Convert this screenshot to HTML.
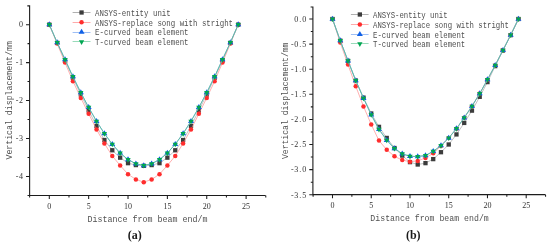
<!DOCTYPE html><html><head><meta charset="utf-8"><title>Vertical displacement</title><style>html,body{margin:0;padding:0;background:#fff}svg{display:block}</style></head><body>
<svg width="550" height="245" viewBox="0 0 550 245">
<rect width="550" height="245" fill="#fff"/>
<path d="M27.32,5.85 H29.62 V195.50 H265.60" fill="none" stroke="#1c1c1c" stroke-width="1.1" stroke-linejoin="miter"/>
<path d="M49.30,195.50v3.6M88.66,195.50v3.6M128.02,195.50v3.6M167.38,195.50v3.6M206.74,195.50v3.6M246.10,195.50v3.6M29.62,195.50v2.1M68.98,195.50v2.1M108.34,195.50v2.1M147.70,195.50v2.1M187.06,195.50v2.1M226.42,195.50v2.1M265.78,195.50v2.1M29.62,24.65h-3.6M29.62,62.60h-3.6M29.62,100.55h-3.6M29.62,138.50h-3.6M29.62,176.45h-3.6M29.62,43.62h-2.1M29.62,81.58h-2.1M29.62,119.53h-2.1M29.62,157.48h-2.1M29.62,195.43h-2.1" fill="none" stroke="#1c1c1c" stroke-width="1.05"/>
<text x="47.30" y="208.70" font-size="8.0" fill="#333" font-family='"Liberation Serif", serif'>0</text>
<text x="86.66" y="208.70" font-size="8.0" fill="#333" font-family='"Liberation Serif", serif'>5</text>
<text x="124.02 128.02" y="208.70" font-size="8.0" fill="#333" font-family='"Liberation Serif", serif'>10</text>
<text x="163.38 167.38" y="208.70" font-size="8.0" fill="#333" font-family='"Liberation Serif", serif'>15</text>
<text x="202.74 206.74" y="208.70" font-size="8.0" fill="#333" font-family='"Liberation Serif", serif'>20</text>
<text x="242.10 246.10" y="208.70" font-size="8.0" fill="#333" font-family='"Liberation Serif", serif'>25</text>
<text x="19.02" y="27.45" font-size="8.0" fill="#333" font-family='"Liberation Serif", serif'>0</text>
<text x="15.69 19.02" y="65.40" font-size="8.0" fill="#333" font-family='"Liberation Serif", serif'>-1</text>
<text x="15.69 19.02" y="103.35" font-size="8.0" fill="#333" font-family='"Liberation Serif", serif'>-2</text>
<text x="15.69 19.02" y="141.30" font-size="8.0" fill="#333" font-family='"Liberation Serif", serif'>-3</text>
<text x="15.69 19.02" y="179.25" font-size="8.0" fill="#333" font-family='"Liberation Serif", serif'>-4</text>
<text transform="translate(147.50 221.60) scale(1 1.15)" font-size="8.33" text-anchor="middle" fill="#505050" font-family='"Liberation Mono", monospace'>Distance from beam end/m</text>
<text transform="translate(11.90 100.35) rotate(-90) scale(1 1.15)" font-size="8.23" text-anchor="middle" fill="#505050" font-family='"Liberation Mono", monospace'>Vertical displacement/mm</text>
<text x="134.70" y="239.20" font-size="12" text-anchor="middle" fill="#1a1a1a" font-weight="bold" font-family='"Liberation Serif", serif'>(a)</text>
<polyline points="49.30,24.65 57.17,42.87 65.04,60.32 72.92,77.78 80.79,94.48 88.66,110.42 96.53,125.98 104.40,140.02 112.28,150.26 120.15,157.66 128.02,163.17 135.89,165.07 143.76,165.82 151.64,165.07 159.51,163.17 167.38,157.66 175.25,150.26 183.12,140.02 191.00,125.98 198.87,110.42 206.74,94.48 214.61,77.78 222.48,60.32 230.36,42.87 238.23,24.65" fill="none" stroke="#3c3c3c" stroke-width="0.32"/>
<rect x="47.15" y="22.50" width="4.30" height="4.30" fill="#3c3c3c"/>
<rect x="55.02" y="40.72" width="4.30" height="4.30" fill="#3c3c3c"/>
<rect x="62.89" y="58.17" width="4.30" height="4.30" fill="#3c3c3c"/>
<rect x="70.77" y="75.63" width="4.30" height="4.30" fill="#3c3c3c"/>
<rect x="78.64" y="92.33" width="4.30" height="4.30" fill="#3c3c3c"/>
<rect x="86.51" y="108.27" width="4.30" height="4.30" fill="#3c3c3c"/>
<rect x="94.38" y="123.83" width="4.30" height="4.30" fill="#3c3c3c"/>
<rect x="102.25" y="137.87" width="4.30" height="4.30" fill="#3c3c3c"/>
<rect x="110.13" y="148.11" width="4.30" height="4.30" fill="#3c3c3c"/>
<rect x="118.00" y="155.51" width="4.30" height="4.30" fill="#3c3c3c"/>
<rect x="125.87" y="161.02" width="4.30" height="4.30" fill="#3c3c3c"/>
<rect x="133.74" y="162.92" width="4.30" height="4.30" fill="#3c3c3c"/>
<rect x="141.61" y="163.67" width="4.30" height="4.30" fill="#3c3c3c"/>
<rect x="149.49" y="162.92" width="4.30" height="4.30" fill="#3c3c3c"/>
<rect x="157.36" y="161.02" width="4.30" height="4.30" fill="#3c3c3c"/>
<rect x="165.23" y="155.51" width="4.30" height="4.30" fill="#3c3c3c"/>
<rect x="173.10" y="148.11" width="4.30" height="4.30" fill="#3c3c3c"/>
<rect x="180.97" y="137.87" width="4.30" height="4.30" fill="#3c3c3c"/>
<rect x="188.85" y="123.83" width="4.30" height="4.30" fill="#3c3c3c"/>
<rect x="196.72" y="108.27" width="4.30" height="4.30" fill="#3c3c3c"/>
<rect x="204.59" y="92.33" width="4.30" height="4.30" fill="#3c3c3c"/>
<rect x="212.46" y="75.63" width="4.30" height="4.30" fill="#3c3c3c"/>
<rect x="220.33" y="58.17" width="4.30" height="4.30" fill="#3c3c3c"/>
<rect x="228.21" y="40.72" width="4.30" height="4.30" fill="#3c3c3c"/>
<rect x="236.08" y="22.50" width="4.30" height="4.30" fill="#3c3c3c"/>
<polyline points="49.30,24.65 57.17,43.62 65.04,62.60 72.92,81.20 80.79,97.89 88.66,113.83 96.53,129.39 104.40,143.43 112.28,155.96 120.15,165.44 128.02,174.17 135.89,179.49 143.76,182.14 151.64,179.49 159.51,174.17 167.38,165.44 175.25,155.96 183.12,143.43 191.00,129.39 198.87,113.83 206.74,97.89 214.61,81.20 222.48,62.60 230.36,43.62 238.23,24.65" fill="none" stroke="#fff" stroke-width="0.38"/>
<polyline points="49.30,24.65 57.17,43.62 65.04,62.60 72.92,81.20 80.79,97.89 88.66,113.83 96.53,129.39 104.40,143.43 112.28,155.96 120.15,165.44 128.02,174.17 135.89,179.49 143.76,182.14 151.64,179.49 159.51,174.17 167.38,165.44 175.25,155.96 183.12,143.43 191.00,129.39 198.87,113.83 206.74,97.89 214.61,81.20 222.48,62.60 230.36,43.62 238.23,24.65" fill="none" stroke="#ff2d2d" stroke-width="0.38"/>
<circle cx="49.30" cy="24.65" r="2.25" fill="#ff2d2d"/>
<circle cx="57.17" cy="43.62" r="2.25" fill="#ff2d2d"/>
<circle cx="65.04" cy="62.60" r="2.25" fill="#ff2d2d"/>
<circle cx="72.92" cy="81.20" r="2.25" fill="#ff2d2d"/>
<circle cx="80.79" cy="97.89" r="2.25" fill="#ff2d2d"/>
<circle cx="88.66" cy="113.83" r="2.25" fill="#ff2d2d"/>
<circle cx="96.53" cy="129.39" r="2.25" fill="#ff2d2d"/>
<circle cx="104.40" cy="143.43" r="2.25" fill="#ff2d2d"/>
<circle cx="112.28" cy="155.96" r="2.25" fill="#ff2d2d"/>
<circle cx="120.15" cy="165.44" r="2.25" fill="#ff2d2d"/>
<circle cx="128.02" cy="174.17" r="2.25" fill="#ff2d2d"/>
<circle cx="135.89" cy="179.49" r="2.25" fill="#ff2d2d"/>
<circle cx="143.76" cy="182.14" r="2.25" fill="#ff2d2d"/>
<circle cx="151.64" cy="179.49" r="2.25" fill="#ff2d2d"/>
<circle cx="159.51" cy="174.17" r="2.25" fill="#ff2d2d"/>
<circle cx="167.38" cy="165.44" r="2.25" fill="#ff2d2d"/>
<circle cx="175.25" cy="155.96" r="2.25" fill="#ff2d2d"/>
<circle cx="183.12" cy="143.43" r="2.25" fill="#ff2d2d"/>
<circle cx="191.00" cy="129.39" r="2.25" fill="#ff2d2d"/>
<circle cx="198.87" cy="113.83" r="2.25" fill="#ff2d2d"/>
<circle cx="206.74" cy="97.89" r="2.25" fill="#ff2d2d"/>
<circle cx="214.61" cy="81.20" r="2.25" fill="#ff2d2d"/>
<circle cx="222.48" cy="62.60" r="2.25" fill="#ff2d2d"/>
<circle cx="230.36" cy="43.62" r="2.25" fill="#ff2d2d"/>
<circle cx="238.23" cy="24.65" r="2.25" fill="#ff2d2d"/>
<polyline points="49.30,24.65 57.17,42.49 65.04,59.56 72.92,76.64 80.79,92.58 88.66,107.38 96.53,121.23 104.40,133.57 112.28,144.19 120.15,153.11 128.02,159.56 135.89,163.74 143.76,165.44 151.64,163.74 159.51,159.56 167.38,153.11 175.25,144.19 183.12,133.57 191.00,121.23 198.87,107.38 206.74,92.58 214.61,76.64 222.48,59.56 230.36,42.49 238.23,24.65" fill="none" stroke="#fff" stroke-width="0.58"/>
<polyline points="49.30,24.65 57.17,42.49 65.04,59.56 72.92,76.64 80.79,92.58 88.66,107.38 96.53,121.23 104.40,133.57 112.28,144.19 120.15,153.11 128.02,159.56 135.89,163.74 143.76,165.44 151.64,163.74 159.51,159.56 167.38,153.11 175.25,144.19 183.12,133.57 191.00,121.23 198.87,107.38 206.74,92.58 214.61,76.64 222.48,59.56 230.36,42.49 238.23,24.65" fill="none" stroke="#1060e6" stroke-width="0.58"/>
<polygon points="49.30,21.35 52.30,26.35 46.30,26.35" fill="#1060e6"/>
<polygon points="57.17,39.19 60.17,44.19 54.17,44.19" fill="#1060e6"/>
<polygon points="65.04,56.26 68.04,61.26 62.04,61.26" fill="#1060e6"/>
<polygon points="72.92,73.34 75.92,78.34 69.92,78.34" fill="#1060e6"/>
<polygon points="80.79,89.28 83.79,94.28 77.79,94.28" fill="#1060e6"/>
<polygon points="88.66,104.08 91.66,109.08 85.66,109.08" fill="#1060e6"/>
<polygon points="96.53,117.93 99.53,122.93 93.53,122.93" fill="#1060e6"/>
<polygon points="104.40,130.27 107.40,135.27 101.40,135.27" fill="#1060e6"/>
<polygon points="112.28,140.89 115.28,145.89 109.28,145.89" fill="#1060e6"/>
<polygon points="120.15,149.81 123.15,154.81 117.15,154.81" fill="#1060e6"/>
<polygon points="128.02,156.26 131.02,161.26 125.02,161.26" fill="#1060e6"/>
<polygon points="135.89,160.44 138.89,165.44 132.89,165.44" fill="#1060e6"/>
<polygon points="143.76,162.14 146.76,167.14 140.76,167.14" fill="#1060e6"/>
<polygon points="151.64,160.44 154.64,165.44 148.64,165.44" fill="#1060e6"/>
<polygon points="159.51,156.26 162.51,161.26 156.51,161.26" fill="#1060e6"/>
<polygon points="167.38,149.81 170.38,154.81 164.38,154.81" fill="#1060e6"/>
<polygon points="175.25,140.89 178.25,145.89 172.25,145.89" fill="#1060e6"/>
<polygon points="183.12,130.27 186.12,135.27 180.12,135.27" fill="#1060e6"/>
<polygon points="191.00,117.93 194.00,122.93 188.00,122.93" fill="#1060e6"/>
<polygon points="198.87,104.08 201.87,109.08 195.87,109.08" fill="#1060e6"/>
<polygon points="206.74,89.28 209.74,94.28 203.74,94.28" fill="#1060e6"/>
<polygon points="214.61,73.34 217.61,78.34 211.61,78.34" fill="#1060e6"/>
<polygon points="222.48,56.26 225.48,61.26 219.48,61.26" fill="#1060e6"/>
<polygon points="230.36,39.19 233.36,44.19 227.36,44.19" fill="#1060e6"/>
<polygon points="238.23,21.35 241.23,26.35 235.23,26.35" fill="#1060e6"/>
<polyline points="49.30,24.65 57.17,42.49 65.04,59.56 72.92,76.64 80.79,92.58 88.66,107.38 96.53,121.23 104.40,133.57 112.28,144.19 120.15,153.11 128.02,159.56 135.89,163.74 143.76,165.44 151.64,163.74 159.51,159.56 167.38,153.11 175.25,144.19 183.12,133.57 191.00,121.23 198.87,107.38 206.74,92.58 214.61,76.64 222.48,59.56 230.36,42.49 238.23,24.65" fill="none" stroke="#fff" stroke-width="0.5"/>
<polyline points="49.30,24.65 57.17,42.49 65.04,59.56 72.92,76.64 80.79,92.58 88.66,107.38 96.53,121.23 104.40,133.57 112.28,144.19 120.15,153.11 128.02,159.56 135.89,163.74 143.76,165.44 151.64,163.74 159.51,159.56 167.38,153.11 175.25,144.19 183.12,133.57 191.00,121.23 198.87,107.38 206.74,92.58 214.61,76.64 222.48,59.56 230.36,42.49 238.23,24.65" fill="none" stroke="#00a652" stroke-width="0.5"/>
<polygon points="49.30,27.75 51.95,23.10 46.65,23.10" fill="#00a652"/>
<polygon points="57.17,45.59 59.82,40.94 54.52,40.94" fill="#00a652"/>
<polygon points="65.04,62.66 67.69,58.01 62.39,58.01" fill="#00a652"/>
<polygon points="72.92,79.74 75.57,75.09 70.27,75.09" fill="#00a652"/>
<polygon points="80.79,95.68 83.44,91.03 78.14,91.03" fill="#00a652"/>
<polygon points="88.66,110.48 91.31,105.83 86.01,105.83" fill="#00a652"/>
<polygon points="96.53,124.33 99.18,119.68 93.88,119.68" fill="#00a652"/>
<polygon points="104.40,136.67 107.05,132.02 101.75,132.02" fill="#00a652"/>
<polygon points="112.28,147.29 114.93,142.64 109.63,142.64" fill="#00a652"/>
<polygon points="120.15,156.21 122.80,151.56 117.50,151.56" fill="#00a652"/>
<polygon points="128.02,162.66 130.67,158.01 125.37,158.01" fill="#00a652"/>
<polygon points="135.89,166.84 138.54,162.19 133.24,162.19" fill="#00a652"/>
<polygon points="143.76,168.54 146.41,163.89 141.11,163.89" fill="#00a652"/>
<polygon points="151.64,166.84 154.29,162.19 148.99,162.19" fill="#00a652"/>
<polygon points="159.51,162.66 162.16,158.01 156.86,158.01" fill="#00a652"/>
<polygon points="167.38,156.21 170.03,151.56 164.73,151.56" fill="#00a652"/>
<polygon points="175.25,147.29 177.90,142.64 172.60,142.64" fill="#00a652"/>
<polygon points="183.12,136.67 185.77,132.02 180.47,132.02" fill="#00a652"/>
<polygon points="191.00,124.33 193.65,119.68 188.35,119.68" fill="#00a652"/>
<polygon points="198.87,110.48 201.52,105.83 196.22,105.83" fill="#00a652"/>
<polygon points="206.74,95.68 209.39,91.03 204.09,91.03" fill="#00a652"/>
<polygon points="214.61,79.74 217.26,75.09 211.96,75.09" fill="#00a652"/>
<polygon points="222.48,62.66 225.13,58.01 219.83,58.01" fill="#00a652"/>
<polygon points="230.36,45.59 233.01,40.94 227.71,40.94" fill="#00a652"/>
<polygon points="238.23,27.75 240.88,23.10 235.58,23.10" fill="#00a652"/>
<path d="M72.60,12.50H90.50" stroke="#3c3c3c" stroke-opacity="0.4" stroke-width="1"/>
<rect x="79.40" y="10.35" width="4.30" height="4.30" fill="#3c3c3c"/>
<text transform="translate(95.10 15.80) scale(1 1.28)" font-size="7.42" text-anchor="start" fill="#505050" font-family='"Liberation Mono", monospace'>ANSYS-entity unit</text>
<path d="M72.60,22.50H90.50" stroke="#ff2d2d" stroke-opacity="0.4" stroke-width="1"/>
<circle cx="81.55" cy="22.25" r="2.25" fill="#ff2d2d"/>
<text transform="translate(95.10 25.55) scale(1 1.28)" font-size="7.42" text-anchor="start" fill="#505050" font-family='"Liberation Mono", monospace'>ANSYS-replace song with stright</text>
<path d="M72.60,32.50H90.50" stroke="#1060e6" stroke-opacity="0.4" stroke-width="1"/>
<polygon points="81.55,28.80 84.55,33.80 78.55,33.80" fill="#1060e6"/>
<text transform="translate(95.10 35.40) scale(1 1.28)" font-size="7.42" text-anchor="start" fill="#505050" font-family='"Liberation Mono", monospace'>E-curved beam element</text>
<path d="M72.60,41.50H90.50" stroke="#00a652" stroke-opacity="0.4" stroke-width="1"/>
<polygon points="81.55,44.95 84.20,40.30 78.90,40.30" fill="#00a652"/>
<text transform="translate(95.10 45.15) scale(1 1.28)" font-size="7.42" text-anchor="start" fill="#505050" font-family='"Liberation Mono", monospace'>T-curved beam element</text>
<path d="M310.60,6.95 H312.90 V194.65 H545.50" fill="none" stroke="#1c1c1c" stroke-width="1.1" stroke-linejoin="miter"/>
<path d="M332.50,194.65v3.6M371.24,194.65v3.6M409.98,194.65v3.6M448.72,194.65v3.6M487.46,194.65v3.6M526.20,194.65v3.6M313.13,194.65v2.1M351.87,194.65v2.1M390.61,194.65v2.1M429.35,194.65v2.1M468.09,194.65v2.1M506.83,194.65v2.1M545.57,194.65v2.1M312.90,19.00h-3.6M312.90,44.10h-3.6M312.90,69.20h-3.6M312.90,94.30h-3.6M312.90,119.40h-3.6M312.90,144.50h-3.6M312.90,169.60h-3.6M312.90,194.70h-3.6M312.90,31.55h-2.1M312.90,56.65h-2.1M312.90,81.75h-2.1M312.90,106.85h-2.1M312.90,131.95h-2.1M312.90,157.05h-2.1M312.90,182.15h-2.1" fill="none" stroke="#1c1c1c" stroke-width="1.05"/>
<text x="330.50" y="208.20" font-size="8.0" fill="#333" font-family='"Liberation Serif", serif'>0</text>
<text x="369.24" y="208.20" font-size="8.0" fill="#333" font-family='"Liberation Serif", serif'>5</text>
<text x="405.98 409.98" y="208.20" font-size="8.0" fill="#333" font-family='"Liberation Serif", serif'>10</text>
<text x="444.72 448.72" y="208.20" font-size="8.0" fill="#333" font-family='"Liberation Serif", serif'>15</text>
<text x="483.46 487.46" y="208.20" font-size="8.0" fill="#333" font-family='"Liberation Serif", serif'>20</text>
<text x="522.20 526.20" y="208.20" font-size="8.0" fill="#333" font-family='"Liberation Serif", serif'>25</text>
<text x="294.30 299.30 302.30" y="21.80" font-size="8.0" fill="#333" font-family='"Liberation Serif", serif'>0.0</text>
<text x="290.97 294.30 299.30 302.30" y="46.90" font-size="8.0" fill="#333" font-family='"Liberation Serif", serif'>-0.5</text>
<text x="290.97 294.30 299.30 302.30" y="72.00" font-size="8.0" fill="#333" font-family='"Liberation Serif", serif'>-1.0</text>
<text x="290.97 294.30 299.30 302.30" y="97.10" font-size="8.0" fill="#333" font-family='"Liberation Serif", serif'>-1.5</text>
<text x="290.97 294.30 299.30 302.30" y="122.20" font-size="8.0" fill="#333" font-family='"Liberation Serif", serif'>-2.0</text>
<text x="290.97 294.30 299.30 302.30" y="147.30" font-size="8.0" fill="#333" font-family='"Liberation Serif", serif'>-2.5</text>
<text x="290.97 294.30 299.30 302.30" y="172.40" font-size="8.0" fill="#333" font-family='"Liberation Serif", serif'>-3.0</text>
<text x="290.97 294.30 299.30 302.30" y="197.50" font-size="8.0" fill="#333" font-family='"Liberation Serif", serif'>-3.5</text>
<text transform="translate(429.55 220.60) scale(1 1.15)" font-size="8.23" text-anchor="middle" fill="#505050" font-family='"Liberation Mono", monospace'>Distance from beam end/m</text>
<text transform="translate(288.20 100.80) rotate(-90) scale(1 1.15)" font-size="8.10" text-anchor="middle" fill="#505050" font-family='"Liberation Mono", monospace'>Vertical displacement/mm</text>
<text x="413.30" y="239.20" font-size="12" text-anchor="middle" fill="#1a1a1a" font-weight="bold" font-family='"Liberation Serif", serif'>(b)</text>
<polyline points="332.50,19.00 340.25,40.67 348.00,60.83 355.74,80.49 363.49,97.62 371.24,113.50 378.99,126.86 386.74,137.94 394.48,148.02 402.23,155.58 409.98,162.14 417.73,164.50 425.48,163.14 433.22,159.11 440.97,152.21 448.72,144.50 456.47,134.42 464.22,122.92 471.96,110.63 479.71,96.82 487.46,82.10 495.21,66.12 502.96,50.50 510.70,35.13 518.45,19.00" fill="none" stroke="#3c3c3c" stroke-width="0.32"/>
<rect x="330.35" y="16.85" width="4.30" height="4.30" fill="#3c3c3c"/>
<rect x="338.10" y="38.52" width="4.30" height="4.30" fill="#3c3c3c"/>
<rect x="345.85" y="58.68" width="4.30" height="4.30" fill="#3c3c3c"/>
<rect x="353.59" y="78.34" width="4.30" height="4.30" fill="#3c3c3c"/>
<rect x="361.34" y="95.47" width="4.30" height="4.30" fill="#3c3c3c"/>
<rect x="369.09" y="111.35" width="4.30" height="4.30" fill="#3c3c3c"/>
<rect x="376.84" y="124.71" width="4.30" height="4.30" fill="#3c3c3c"/>
<rect x="384.59" y="135.79" width="4.30" height="4.30" fill="#3c3c3c"/>
<rect x="392.33" y="145.87" width="4.30" height="4.30" fill="#3c3c3c"/>
<rect x="400.08" y="153.43" width="4.30" height="4.30" fill="#3c3c3c"/>
<rect x="407.83" y="159.99" width="4.30" height="4.30" fill="#3c3c3c"/>
<rect x="415.58" y="162.35" width="4.30" height="4.30" fill="#3c3c3c"/>
<rect x="423.33" y="160.99" width="4.30" height="4.30" fill="#3c3c3c"/>
<rect x="431.07" y="156.96" width="4.30" height="4.30" fill="#3c3c3c"/>
<rect x="438.82" y="150.06" width="4.30" height="4.30" fill="#3c3c3c"/>
<rect x="446.57" y="142.35" width="4.30" height="4.30" fill="#3c3c3c"/>
<rect x="454.32" y="132.27" width="4.30" height="4.30" fill="#3c3c3c"/>
<rect x="462.07" y="120.77" width="4.30" height="4.30" fill="#3c3c3c"/>
<rect x="469.81" y="108.48" width="4.30" height="4.30" fill="#3c3c3c"/>
<rect x="477.56" y="94.67" width="4.30" height="4.30" fill="#3c3c3c"/>
<rect x="485.31" y="79.95" width="4.30" height="4.30" fill="#3c3c3c"/>
<rect x="493.06" y="63.97" width="4.30" height="4.30" fill="#3c3c3c"/>
<rect x="500.81" y="48.35" width="4.30" height="4.30" fill="#3c3c3c"/>
<rect x="508.55" y="32.98" width="4.30" height="4.30" fill="#3c3c3c"/>
<rect x="516.30" y="16.85" width="4.30" height="4.30" fill="#3c3c3c"/>
<polyline points="332.50,19.00 340.25,42.59 348.00,64.61 355.74,86.18 363.49,106.39 371.24,124.49 378.99,140.62 386.74,149.74 394.48,156.29 402.23,160.12 409.98,161.63 417.73,160.88 425.48,157.90 433.22,153.32 440.97,146.01 448.72,137.94 456.47,128.67 464.22,117.68 471.96,106.19 479.71,93.59 487.46,79.63 495.21,65.22 502.96,50.20 510.70,34.98 518.45,19.00" fill="none" stroke="#fff" stroke-width="0.38"/>
<polyline points="332.50,19.00 340.25,42.59 348.00,64.61 355.74,86.18 363.49,106.39 371.24,124.49 378.99,140.62 386.74,149.74 394.48,156.29 402.23,160.12 409.98,161.63 417.73,160.88 425.48,157.90 433.22,153.32 440.97,146.01 448.72,137.94 456.47,128.67 464.22,117.68 471.96,106.19 479.71,93.59 487.46,79.63 495.21,65.22 502.96,50.20 510.70,34.98 518.45,19.00" fill="none" stroke="#ff2d2d" stroke-width="0.38"/>
<circle cx="332.50" cy="19.00" r="2.25" fill="#ff2d2d"/>
<circle cx="340.25" cy="42.59" r="2.25" fill="#ff2d2d"/>
<circle cx="348.00" cy="64.61" r="2.25" fill="#ff2d2d"/>
<circle cx="355.74" cy="86.18" r="2.25" fill="#ff2d2d"/>
<circle cx="363.49" cy="106.39" r="2.25" fill="#ff2d2d"/>
<circle cx="371.24" cy="124.49" r="2.25" fill="#ff2d2d"/>
<circle cx="378.99" cy="140.62" r="2.25" fill="#ff2d2d"/>
<circle cx="386.74" cy="149.74" r="2.25" fill="#ff2d2d"/>
<circle cx="394.48" cy="156.29" r="2.25" fill="#ff2d2d"/>
<circle cx="402.23" cy="160.12" r="2.25" fill="#ff2d2d"/>
<circle cx="409.98" cy="161.63" r="2.25" fill="#ff2d2d"/>
<circle cx="417.73" cy="160.88" r="2.25" fill="#ff2d2d"/>
<circle cx="425.48" cy="157.90" r="2.25" fill="#ff2d2d"/>
<circle cx="433.22" cy="153.32" r="2.25" fill="#ff2d2d"/>
<circle cx="440.97" cy="146.01" r="2.25" fill="#ff2d2d"/>
<circle cx="448.72" cy="137.94" r="2.25" fill="#ff2d2d"/>
<circle cx="456.47" cy="128.67" r="2.25" fill="#ff2d2d"/>
<circle cx="464.22" cy="117.68" r="2.25" fill="#ff2d2d"/>
<circle cx="471.96" cy="106.19" r="2.25" fill="#ff2d2d"/>
<circle cx="479.71" cy="93.59" r="2.25" fill="#ff2d2d"/>
<circle cx="487.46" cy="79.63" r="2.25" fill="#ff2d2d"/>
<circle cx="495.21" cy="65.22" r="2.25" fill="#ff2d2d"/>
<circle cx="502.96" cy="50.20" r="2.25" fill="#ff2d2d"/>
<circle cx="510.70" cy="34.98" r="2.25" fill="#ff2d2d"/>
<circle cx="518.45" cy="19.00" r="2.25" fill="#ff2d2d"/>
<polyline points="332.50,19.00 340.25,40.67 348.00,60.83 355.74,80.49 363.49,98.18 371.24,114.76 378.99,129.38 386.74,140.21 394.48,148.43 402.23,153.82 409.98,156.29 417.73,156.59 425.48,155.48 433.22,151.40 440.97,145.60 448.72,137.94 456.47,128.67 464.22,117.68 471.96,106.19 479.71,93.59 487.46,79.63 495.21,65.22 502.96,50.20 510.70,34.98 518.45,19.00" fill="none" stroke="#fff" stroke-width="0.58"/>
<polyline points="332.50,19.00 340.25,40.67 348.00,60.83 355.74,80.49 363.49,98.18 371.24,114.76 378.99,129.38 386.74,140.21 394.48,148.43 402.23,153.82 409.98,156.29 417.73,156.59 425.48,155.48 433.22,151.40 440.97,145.60 448.72,137.94 456.47,128.67 464.22,117.68 471.96,106.19 479.71,93.59 487.46,79.63 495.21,65.22 502.96,50.20 510.70,34.98 518.45,19.00" fill="none" stroke="#1060e6" stroke-width="0.58"/>
<polygon points="332.50,15.70 335.50,20.70 329.50,20.70" fill="#1060e6"/>
<polygon points="340.25,37.37 343.25,42.37 337.25,42.37" fill="#1060e6"/>
<polygon points="348.00,57.53 351.00,62.53 345.00,62.53" fill="#1060e6"/>
<polygon points="355.74,77.19 358.74,82.19 352.74,82.19" fill="#1060e6"/>
<polygon points="363.49,94.88 366.49,99.88 360.49,99.88" fill="#1060e6"/>
<polygon points="371.24,111.46 374.24,116.46 368.24,116.46" fill="#1060e6"/>
<polygon points="378.99,126.08 381.99,131.08 375.99,131.08" fill="#1060e6"/>
<polygon points="386.74,136.91 389.74,141.91 383.74,141.91" fill="#1060e6"/>
<polygon points="394.48,145.13 397.48,150.13 391.48,150.13" fill="#1060e6"/>
<polygon points="402.23,150.52 405.23,155.52 399.23,155.52" fill="#1060e6"/>
<polygon points="409.98,152.99 412.98,157.99 406.98,157.99" fill="#1060e6"/>
<polygon points="417.73,153.29 420.73,158.29 414.73,158.29" fill="#1060e6"/>
<polygon points="425.48,152.18 428.48,157.18 422.48,157.18" fill="#1060e6"/>
<polygon points="433.22,148.10 436.22,153.10 430.22,153.10" fill="#1060e6"/>
<polygon points="440.97,142.30 443.97,147.30 437.97,147.30" fill="#1060e6"/>
<polygon points="448.72,134.64 451.72,139.64 445.72,139.64" fill="#1060e6"/>
<polygon points="456.47,125.37 459.47,130.37 453.47,130.37" fill="#1060e6"/>
<polygon points="464.22,114.38 467.22,119.38 461.22,119.38" fill="#1060e6"/>
<polygon points="471.96,102.89 474.96,107.89 468.96,107.89" fill="#1060e6"/>
<polygon points="479.71,90.29 482.71,95.29 476.71,95.29" fill="#1060e6"/>
<polygon points="487.46,76.33 490.46,81.33 484.46,81.33" fill="#1060e6"/>
<polygon points="495.21,61.92 498.21,66.92 492.21,66.92" fill="#1060e6"/>
<polygon points="502.96,46.90 505.96,51.90 499.96,51.90" fill="#1060e6"/>
<polygon points="510.70,31.68 513.70,36.68 507.70,36.68" fill="#1060e6"/>
<polygon points="518.45,15.70 521.45,20.70 515.45,20.70" fill="#1060e6"/>
<polyline points="332.50,19.00 340.25,40.67 348.00,60.83 355.74,80.49 363.49,98.18 371.24,114.76 378.99,129.38 386.74,140.21 394.48,148.43 402.23,153.82 409.98,156.29 417.73,156.59 425.48,155.48 433.22,151.40 440.97,145.60 448.72,137.94 456.47,128.67 464.22,117.68 471.96,106.19 479.71,93.59 487.46,79.63 495.21,65.22 502.96,50.20 510.70,34.98 518.45,19.00" fill="none" stroke="#fff" stroke-width="0.5"/>
<polyline points="332.50,19.00 340.25,40.67 348.00,60.83 355.74,80.49 363.49,98.18 371.24,114.76 378.99,129.38 386.74,140.21 394.48,148.43 402.23,153.82 409.98,156.29 417.73,156.59 425.48,155.48 433.22,151.40 440.97,145.60 448.72,137.94 456.47,128.67 464.22,117.68 471.96,106.19 479.71,93.59 487.46,79.63 495.21,65.22 502.96,50.20 510.70,34.98 518.45,19.00" fill="none" stroke="#00a652" stroke-width="0.5"/>
<polygon points="332.50,22.10 335.15,17.45 329.85,17.45" fill="#00a652"/>
<polygon points="340.25,43.77 342.90,39.12 337.60,39.12" fill="#00a652"/>
<polygon points="348.00,63.93 350.65,59.28 345.35,59.28" fill="#00a652"/>
<polygon points="355.74,83.59 358.39,78.94 353.09,78.94" fill="#00a652"/>
<polygon points="363.49,101.28 366.14,96.63 360.84,96.63" fill="#00a652"/>
<polygon points="371.24,117.86 373.89,113.21 368.59,113.21" fill="#00a652"/>
<polygon points="378.99,132.48 381.64,127.83 376.34,127.83" fill="#00a652"/>
<polygon points="386.74,143.31 389.39,138.66 384.09,138.66" fill="#00a652"/>
<polygon points="394.48,151.53 397.13,146.88 391.83,146.88" fill="#00a652"/>
<polygon points="402.23,156.92 404.88,152.27 399.58,152.27" fill="#00a652"/>
<polygon points="409.98,159.39 412.63,154.74 407.33,154.74" fill="#00a652"/>
<polygon points="417.73,159.69 420.38,155.04 415.08,155.04" fill="#00a652"/>
<polygon points="425.48,158.58 428.13,153.93 422.83,153.93" fill="#00a652"/>
<polygon points="433.22,154.50 435.87,149.85 430.57,149.85" fill="#00a652"/>
<polygon points="440.97,148.70 443.62,144.05 438.32,144.05" fill="#00a652"/>
<polygon points="448.72,141.04 451.37,136.39 446.07,136.39" fill="#00a652"/>
<polygon points="456.47,131.77 459.12,127.12 453.82,127.12" fill="#00a652"/>
<polygon points="464.22,120.78 466.87,116.13 461.57,116.13" fill="#00a652"/>
<polygon points="471.96,109.29 474.61,104.64 469.31,104.64" fill="#00a652"/>
<polygon points="479.71,96.69 482.36,92.04 477.06,92.04" fill="#00a652"/>
<polygon points="487.46,82.73 490.11,78.08 484.81,78.08" fill="#00a652"/>
<polygon points="495.21,68.32 497.86,63.67 492.56,63.67" fill="#00a652"/>
<polygon points="502.96,53.30 505.61,48.65 500.31,48.65" fill="#00a652"/>
<polygon points="510.70,38.08 513.35,33.43 508.05,33.43" fill="#00a652"/>
<polygon points="518.45,22.10 521.10,17.45 515.80,17.45" fill="#00a652"/>
<path d="M350.90,14.50H368.60" stroke="#3c3c3c" stroke-opacity="0.4" stroke-width="1"/>
<rect x="357.70" y="12.35" width="4.30" height="4.30" fill="#3c3c3c"/>
<text transform="translate(373.10 17.80) scale(1 1.28)" font-size="7.32" text-anchor="start" fill="#505050" font-family='"Liberation Mono", monospace'>ANSYS-entity unit</text>
<path d="M350.90,24.50H368.60" stroke="#ff2d2d" stroke-opacity="0.4" stroke-width="1"/>
<circle cx="359.85" cy="24.40" r="2.25" fill="#ff2d2d"/>
<text transform="translate(373.10 27.70) scale(1 1.28)" font-size="7.32" text-anchor="start" fill="#505050" font-family='"Liberation Mono", monospace'>ANSYS-replace song with stright</text>
<path d="M350.90,34.50H368.60" stroke="#1060e6" stroke-opacity="0.4" stroke-width="1"/>
<polygon points="359.85,30.90 362.85,35.90 356.85,35.90" fill="#1060e6"/>
<text transform="translate(373.10 37.50) scale(1 1.28)" font-size="7.32" text-anchor="start" fill="#505050" font-family='"Liberation Mono", monospace'>E-curved beam element</text>
<path d="M350.90,43.50H368.60" stroke="#00a652" stroke-opacity="0.4" stroke-width="1"/>
<polygon points="359.85,46.95 362.50,42.30 357.20,42.30" fill="#00a652"/>
<text transform="translate(373.10 47.15) scale(1 1.28)" font-size="7.32" text-anchor="start" fill="#505050" font-family='"Liberation Mono", monospace'>T-curved beam element</text>
</svg></body></html>
